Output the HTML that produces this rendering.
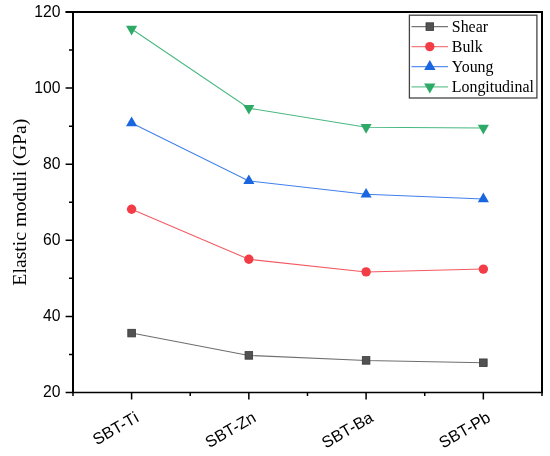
<!DOCTYPE html>
<html><head><meta charset="utf-8"><title>Elastic moduli</title>
<style>
html,body{margin:0;padding:0;background:#fff;}
svg{display:block;}
.tk{font-family:"Liberation Sans",Arial,sans-serif;font-size:15.7px;fill:#000;}
.xk{font-family:"Liberation Sans",Arial,sans-serif;font-size:16.3px;fill:#000;}
.lg{font-family:"Liberation Serif","Times New Roman",serif;font-size:15.9px;fill:#000;}
.yt{font-family:"Liberation Serif","Times New Roman",serif;font-size:19.8px;fill:#000;}
</style></head>
<body>
<svg width="550" height="456" viewBox="0 0 550 456">
<rect width="550" height="456" fill="#fff"/>
<path d="M73,11 V393 M65.6,12 H543 M542,11 V393" stroke="#000" stroke-width="2" fill="none"/>
<path d="M72,392.5 H543" stroke="#000" stroke-width="1.5" fill="none"/>
<path d="M65.6,12.00 H73 M65.6,88.10 H73 M65.6,164.20 H73 M65.6,240.30 H73 M65.6,316.40 H73 M65.6,392.50 H73 M69,50.05 H73 M69,126.15 H73 M69,202.25 H73 M69,278.35 H73 M69,354.45 H73" stroke="#000" stroke-width="1.5" fill="none"/>
<path d="M131.6,392 V399.5 M248.85,392 V399.5 M366.1,392 V399.5 M483.35,392 V399.5 M73.00,392 V396 M190.22,392 V396 M307.48,392 V396 M424.73,392 V396 M542.00,392 V396" stroke="#000" stroke-width="1.5" fill="none"/>
<text x="60.5" y="16.6" text-anchor="end" class="tk">120</text>
<text x="60.5" y="92.7" text-anchor="end" class="tk">100</text>
<text x="60.5" y="168.8" text-anchor="end" class="tk">80</text>
<text x="60.5" y="244.9" text-anchor="end" class="tk">60</text>
<text x="60.5" y="321.0" text-anchor="end" class="tk">40</text>
<text x="60.5" y="397.1" text-anchor="end" class="tk">20</text>
<text x="139.9" y="420.6" text-anchor="end" class="xk" transform="rotate(-30 139.9 420.6)">SBT-T<tspan dx="0.7">i</tspan></text>
<text x="257.1" y="420.6" text-anchor="end" class="xk" transform="rotate(-30 257.1 420.6)">SBT-Zn</text>
<text x="374.4" y="420.6" text-anchor="end" class="xk" transform="rotate(-30 374.4 420.6)">SBT-Ba</text>
<text x="491.7" y="420.6" text-anchor="end" class="xk" transform="rotate(-30 491.7 420.6)">SBT-Pb</text>
<text x="0" y="0" class="yt" text-anchor="middle" transform="translate(26.4 202.2) rotate(-90)">Elastic moduli (GPa)</text>
<polyline points="131.60,333.10 248.85,355.40 366.10,360.40 483.35,362.75" fill="none" stroke="#6e6e6e" stroke-width="1.05"/>
<polyline points="131.60,209.30 248.85,259.30 366.10,271.90 483.35,269.10" fill="none" stroke="#f25a62" stroke-width="1.05"/>
<polyline points="131.60,123.00 248.85,180.90 366.10,194.30 483.35,199.00" fill="none" stroke="#3f80ea" stroke-width="1.05"/>
<polyline points="131.60,29.00 248.85,108.20 366.10,127.30 483.35,128.00" fill="none" stroke="#48b882" stroke-width="1.05"/>
<rect x="127.80" y="329.30" width="7.60" height="7.60" fill="#525252" stroke="#383838" stroke-width="0.8"/>
<rect x="245.05" y="351.60" width="7.60" height="7.60" fill="#525252" stroke="#383838" stroke-width="0.8"/>
<rect x="362.30" y="356.60" width="7.60" height="7.60" fill="#525252" stroke="#383838" stroke-width="0.8"/>
<rect x="479.55" y="358.95" width="7.60" height="7.60" fill="#525252" stroke="#383838" stroke-width="0.8"/>
<circle cx="131.60" cy="209.30" r="4.70" fill="#f23d46"/>
<circle cx="248.85" cy="259.30" r="4.70" fill="#f23d46"/>
<circle cx="366.10" cy="271.90" r="4.70" fill="#f23d46"/>
<circle cx="483.35" cy="269.10" r="4.70" fill="#f23d46"/>
<polygon points="131.60,116.59 137.15,126.20 126.05,126.20" fill="#1a66e0"/>
<polygon points="248.85,174.49 254.40,184.10 243.30,184.10" fill="#1a66e0"/>
<polygon points="366.10,187.89 371.65,197.50 360.55,197.50" fill="#1a66e0"/>
<polygon points="483.35,192.59 488.90,202.20 477.80,202.20" fill="#1a66e0"/>
<polygon points="126.05,25.80 137.15,25.80 131.60,35.41" fill="#2caa66"/>
<polygon points="243.30,105.00 254.40,105.00 248.85,114.61" fill="#2caa66"/>
<polygon points="360.55,124.10 371.65,124.10 366.10,133.71" fill="#2caa66"/>
<polygon points="477.80,124.80 488.90,124.80 483.35,134.41" fill="#2caa66"/>
<rect x="409.4" y="15.2" width="127.5" height="82.8" fill="#fff" stroke="#444" stroke-width="1.3"/>
<path d="M411.5,26.6 H448" stroke="#777777" stroke-width="1.2"/>
<rect x="426.00" y="22.80" width="7.60" height="7.60" fill="#525252" stroke="#383838" stroke-width="0.8"/>
<text x="451.8" y="32.1" class="lg">Shear</text>
<path d="M411.5,46.6 H448" stroke="#f37a7e" stroke-width="1.2"/>
<circle cx="429.80" cy="46.60" r="4.70" fill="#f23d46"/>
<text x="451.8" y="52.1" class="lg">Bulk</text>
<path d="M411.5,66.7 H448" stroke="#5a90ee" stroke-width="1.2"/>
<polygon points="429.80,60.12 435.50,69.99 424.10,69.99" fill="#1a66e0"/>
<text x="451.8" y="72.2" class="lg">Young</text>
<path d="M411.5,86.8 H448" stroke="#6cc494" stroke-width="1.2"/>
<polygon points="424.10,83.51 435.50,83.51 429.80,93.38" fill="#2caa66"/>
<text x="451.8" y="92.3" class="lg">Longitudinal</text>
</svg>
</body></html>
